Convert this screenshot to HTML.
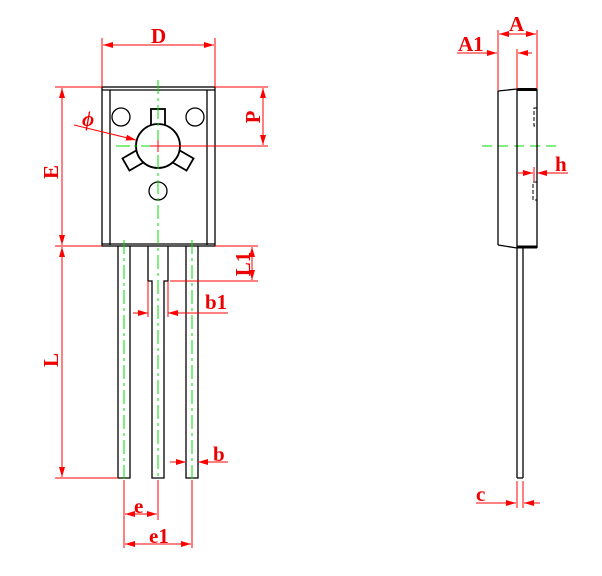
<!DOCTYPE html>
<html><head><meta charset="utf-8"><style>
html,body{margin:0;padding:0;background:#fff;}
svg{display:block;}
text{font-family:"Liberation Serif",serif;fill:#e00;font-size:21px;font-weight:bold;}
</style></head><body>
<svg width="602" height="576" viewBox="0 0 602 576" xmlns="http://www.w3.org/2000/svg">
<defs>
<marker id="ar" viewBox="0 0 10 6" refX="10" refY="3" markerWidth="10" markerHeight="6" markerUnits="userSpaceOnUse" orient="auto-start-reverse"><path d="M0,0 L10,3 L0,6 z" fill="#f00"/></marker>
</defs>
<g stroke="#000" fill="none" stroke-width="1.3">
<rect x="102" y="87" width="113" height="159"/>
<line x1="110" y1="90" x2="110" y2="245"/>
<line x1="207" y1="90" x2="207" y2="245"/>
<line x1="102" y1="90" x2="215" y2="90"/>
<line x1="102" y1="244" x2="215" y2="244"/>
<circle cx="121" cy="117" r="9"/>
<circle cx="195" cy="117" r="9"/>
<circle cx="158" cy="191" r="9"/>
</g>
<g stroke="#000" fill="#fff" stroke-width="1.8">
<g transform="translate(158,146)">
<rect x="-7" y="-37" width="14" height="20"/>
<rect x="-7" y="-37" width="14" height="20" transform="rotate(120)"/>
<rect x="-7" y="-37" width="14" height="20" transform="rotate(-120)"/>
<circle cx="0" cy="0" r="22"/>
</g>
</g>
<g stroke="#000" fill="none" stroke-width="1.3">
<polyline points="118,246 118,478 130,478 130,246"/>
<polyline points="148,246 148,281 152,281 152,478 164,478 164,281 168,281 168,246"/>
<polyline points="186,246 186,478 198,478 198,246"/>
</g>
<g stroke="#0d0" fill="none" stroke-width="1" stroke-dasharray="14,4,3,4">
<line x1="158" y1="80" x2="158" y2="490"/>
<line x1="124" y1="240" x2="124" y2="485"/>
<line x1="192" y1="240" x2="192" y2="485"/>
<line x1="116" y1="146" x2="225" y2="146"/>
<line x1="482" y1="146" x2="556" y2="146" stroke-dasharray="10,6"/>
</g>
<g stroke="#f00" fill="none" stroke-width="1">
<line x1="102" y1="38" x2="102" y2="87"/><line x1="215" y1="38" x2="215" y2="87"/>
<line x1="103" y1="45" x2="214" y2="45" marker-start="url(#ar)" marker-end="url(#ar)"/>
<line x1="55" y1="87" x2="102" y2="87"/><line x1="55" y1="246" x2="102" y2="246"/>
<line x1="62" y1="88" x2="62" y2="245" marker-start="url(#ar)" marker-end="url(#ar)"/>
<line x1="55" y1="478" x2="118" y2="478"/>
<line x1="62" y1="247" x2="62" y2="477" marker-start="url(#ar)" marker-end="url(#ar)"/>
<line x1="215" y1="87" x2="268" y2="87"/><line x1="150" y1="146" x2="268" y2="146"/>
<line x1="158" y1="140" x2="158" y2="152"/>
<line x1="263" y1="88" x2="263" y2="145" marker-start="url(#ar)" marker-end="url(#ar)"/>
<line x1="74" y1="125" x2="136" y2="140" marker-end="url(#ar)"/>
<line x1="215" y1="246" x2="258" y2="246"/><line x1="170" y1="281" x2="258" y2="281"/>
<line x1="252" y1="247" x2="252" y2="280" marker-start="url(#ar)" marker-end="url(#ar)"/>
<line x1="148" y1="281" x2="148" y2="317"/><line x1="168" y1="281" x2="168" y2="317"/>
<line x1="133" y1="313" x2="148" y2="313" marker-end="url(#ar)"/>
<line x1="228" y1="313" x2="168" y2="313" marker-end="url(#ar)"/>
<line x1="170" y1="462" x2="186" y2="462" marker-end="url(#ar)"/>
<line x1="228" y1="462" x2="198" y2="462" marker-end="url(#ar)"/>
<line x1="124" y1="480" x2="124" y2="548"/><line x1="158" y1="480" x2="158" y2="520"/><line x1="192" y1="480" x2="192" y2="548"/>
<line x1="125" y1="514" x2="157" y2="514" marker-start="url(#ar)" marker-end="url(#ar)"/>
<line x1="125" y1="544" x2="191" y2="544" marker-start="url(#ar)" marker-end="url(#ar)"/>
</g>
<text x="151" y="43">D</text>
<text x="82" y="126" font-style="italic">ϕ</text>
<text transform="translate(58,172) rotate(-90)" text-anchor="middle">E</text>
<text transform="translate(58,360) rotate(-90)" text-anchor="middle">L</text>
<text transform="translate(260,117) rotate(-90)" text-anchor="middle">P</text>
<text transform="translate(250,264) rotate(-90)" text-anchor="middle">L1</text>
<text x="205" y="309">b1</text>
<text x="213" y="461">b</text>
<text x="134" y="513">e</text>
<text x="149" y="543">e1</text>
<g stroke="#000" fill="none" stroke-width="1.3">
<line x1="498" y1="91" x2="498" y2="245"/>
<line x1="517" y1="89" x2="517" y2="478"/>
<line x1="537" y1="89" x2="537" y2="248"/>
<line x1="498" y1="91" x2="517" y2="89"/>
<line x1="498" y1="245" x2="517" y2="248"/>
<line x1="523" y1="248" x2="523" y2="478"/>
<line x1="517" y1="478" x2="523" y2="478"/>
<line x1="517" y1="89.5" x2="537" y2="89.5" stroke-width="3"/>
<line x1="517" y1="247" x2="537" y2="247" stroke-width="3"/>
<polyline points="537,108 534,108 534,126 537,126" stroke-dasharray="4,2" stroke-width="1"/>
<polyline points="537,182 533,182 533,200 537,200" stroke-dasharray="4,2" stroke-width="1"/>
</g>
<g stroke="#f00" fill="none" stroke-width="1">
<line x1="498" y1="30" x2="498" y2="91"/><line x1="537" y1="30" x2="537" y2="89"/>
<line x1="499" y1="34" x2="536" y2="34" marker-start="url(#ar)" marker-end="url(#ar)"/>
<line x1="457" y1="53" x2="497" y2="53" marker-end="url(#ar)"/>
<line x1="532" y1="53" x2="518" y2="53" marker-end="url(#ar)"/>
<line x1="517" y1="49" x2="517" y2="89"/>
<line x1="518" y1="173" x2="533" y2="173" marker-end="url(#ar)"/>
<line x1="568" y1="173" x2="537" y2="173" marker-end="url(#ar)"/>
<line x1="534" y1="167" x2="534" y2="181"/>
<line x1="517" y1="481" x2="517" y2="508"/><line x1="523" y1="481" x2="523" y2="508"/>
<line x1="476" y1="503" x2="516" y2="503" marker-end="url(#ar)"/>
<line x1="540" y1="503" x2="524" y2="503" marker-end="url(#ar)"/>
</g>
<text x="509" y="31">A</text>
<text x="458" y="51">A1</text>
<text x="555" y="171">h</text>
<text x="476" y="501">c</text>
</svg>
</body></html>
